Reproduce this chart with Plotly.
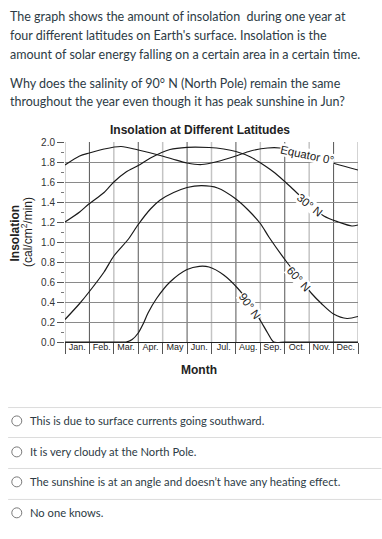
import plotly.graph_objects as go

# ---------------- data ----------------
months = ["Jan.", "Feb.", "Mar.", "Apr.", "May", "Jun.", "Jul.", "Aug.", "Sep.", "Oct.", "Nov.", "Dec."]
month_bounds = list(range(13))
y_ticks = [0.0, 0.2, 0.4, 0.6, 0.8, 1.0, 1.2, 1.4, 1.6, 1.8, 2.0]

eq_x = [0, 0.6, 1.0, 1.6, 2.3, 3.0, 3.75, 4.4, 5.0, 5.6, 6.25, 7.0, 7.6, 8.3, 8.8, 9.5, 10.3, 11.1, 12]
eq_y = [1.77, 1.86, 1.89, 1.93, 1.955, 1.92, 1.875, 1.83, 1.79, 1.775, 1.805, 1.86, 1.91, 1.94, 1.94, 1.90, 1.84, 1.78, 1.72]

n30_x = [0, 0.6, 1.0, 1.6, 2.0, 2.5, 3.0, 3.5, 4.3, 5.0, 5.9, 6.5, 7.0, 7.6, 8.2, 8.6, 9.2, 9.9, 10.6, 11.2, 11.75, 12]
n30_y = [1.20, 1.30, 1.385, 1.495, 1.60, 1.70, 1.765, 1.84, 1.925, 1.947, 1.945, 1.93, 1.905, 1.85, 1.76, 1.69, 1.56, 1.40, 1.26, 1.20, 1.16, 1.17]

n60_x = [0, 0.6, 1.0, 1.6, 2.0, 2.6, 3.0, 3.5, 3.9, 4.45, 5.0, 5.6, 6.25, 7.0, 7.5, 8.0, 8.35, 9.05, 9.6, 10.1, 10.5, 11.0, 11.55, 12]
n60_y = [0.225, 0.385, 0.505, 0.70, 0.86, 1.03, 1.175, 1.33, 1.42, 1.495, 1.545, 1.563, 1.54, 1.43, 1.32, 1.185, 1.05, 0.81, 0.64, 0.485, 0.385, 0.28, 0.235, 0.255]

n90_x = [0, 1, 2, 2.5, 2.75, 3.0, 3.2, 3.4, 3.75, 4.3, 5.0, 5.5, 5.9, 6.5, 7.1, 7.6, 8.05, 8.3, 8.55, 9, 10, 11, 12]
n90_y = [0, 0, 0, 0, 0.025, 0.09, 0.18, 0.29, 0.435, 0.60, 0.725, 0.757, 0.75, 0.67, 0.53, 0.37, 0.195, 0.09, 0, 0, 0, 0, 0]

series = [
    ("Equator 0°", eq_x, eq_y, 9.93, 1.867, 12),
    ("30° N", n30_x, n30_y, 10.01, 1.367, 39),
    ("60° N", n60_x, n60_y, 9.56, 0.627, 48),
    ("90° N", n90_x, n90_y, 7.56, 0.357, 55),
]

intro_lines = [
    "The graph shows the amount of insolation  during one year at",
    "four different latitudes on Earth's surface. Insolation is the",
    "amount of solar energy falling on a certain area in a certain time.",
    "Why does the salinity of 90° N (North Pole) remain the same",
    "throughout the year even though it has peak sunshine in Jun?",
]
options = [
    "This is due to surface currents going southward.",
    "It is very cloudy at the North Pole.",
    "The sunshine is at an angle and doesn’t have any heating effect.",
    "No one knows.",
]

# ---------------- layout geometry (pixels) ----------------
W, H = 382, 539
L, R, T, B = 65, 358.5, 141.5, 341.7


def px(x):
    return (x - L) / (R - L)


def py(y):
    return (B - y) / (B - T)


fig = go.Figure()
for name, xs, ys, lx, ly, ang in series:
    fig.add_trace(go.Scatter(x=xs, y=ys, mode="lines", name=name,
                             line=dict(color="#1a1a1a", width=1.2, shape="spline", smoothing=0.8),
                             cliponaxis=False, hoverinfo="skip", showlegend=False))

shapes = []
# vertical grid lines at month boundaries (alternating dark / light)
for b in month_bounds:
    dark = (b % 2 == 1)
    shapes.append(dict(type="line", xref="x", yref="y", x0=b, x1=b, y0=0, y1=2.0,
                       line=dict(color="#555555" if dark else "#c4c4c4", width=1 if dark else 1.5),
                       layer="below"))

annotations = []
for name, xs, ys, lx, ly, ang in series:
    annotations.append(dict(x=lx, y=ly, xref="x", yref="y", text=name, showarrow=False,
                            textangle=ang, bgcolor="white", borderpad=0,
                            xanchor="center", yanchor="middle",
                            font=dict(family="Liberation Sans, Arial", size=11.5, color="#222")))

title_font = dict(family="Liberation Sans, Arial", size=12, color="#222")
# title, axis titles
annotations.append(dict(x=px(200), y=py(129), xref="paper", yref="paper", showarrow=False,
                        xanchor="center", yanchor="middle",
                        text="<b>Insolation at Different Latitudes</b>", font=title_font))
annotations.append(dict(x=px(199), y=py(370), xref="paper", yref="paper", showarrow=False,
                        xanchor="center", yanchor="middle",
                        text="<b>Month</b>", font=title_font))
annotations.append(dict(x=px(15), y=py(233), xref="paper", yref="paper", showarrow=False,
                        xanchor="center", yanchor="middle",
                        text="<b>Insolation</b>", textangle=-90, font=title_font))
annotations.append(dict(x=px(27.5), y=py(232), xref="paper", yref="paper", showarrow=False,
                        xanchor="center", yanchor="middle",
                        text="(cal/cm<sup>2</sup>/min)", textangle=-90, font=title_font))

# intro text
intro_y = [16, 34.5, 53.5, 82.5, 101]
for t, yy in zip(intro_lines, intro_y):
    annotations.append(dict(x=px(8), y=py(yy), xref="paper", yref="paper", showarrow=False,
                            xanchor="left", yanchor="middle", text=t,
                            font=dict(family="Lato", size=12.5, color="#2d3b45")))

# answer options
opt_y = [420.7, 451.7, 481.7, 512.7]
sep_y = [407.3, 437.3, 468.3, 499.3]
for t, yy in zip(options, opt_y):
    annotations.append(dict(x=px(28), y=py(yy), xref="paper", yref="paper", showarrow=False,
                            xanchor="left", yanchor="middle", text=t,
                            font=dict(family="Lato", size=11.2, color="#2d3b45")))
    shapes.append(dict(type="circle", xref="paper", yref="paper",
                       x0=px(11.7), x1=px(21.7), y0=py(yy - 5), y1=py(yy + 5),
                       line=dict(color="#7a7a7a", width=1)))
for yy in sep_y:
    shapes.append(dict(type="line", xref="paper", yref="paper",
                       x0=px(8), x1=px(382), y0=py(yy), y1=py(yy),
                       line=dict(color="#dcdcdc", width=1)))

fig.update_layout(
    width=W, height=H, autosize=False,
    margin=dict(l=L, r=W - R, t=T, b=H - B, pad=0),
    paper_bgcolor="white", plot_bgcolor="white",
    shapes=shapes, annotations=annotations,
    xaxis=dict(range=[0, 12], tickmode="array", tickvals=[i + 0.5 for i in range(12)],
               ticktext=months, ticks="", showgrid=False, zeroline=False,
               showline=True, linecolor="#222", linewidth=1.3, ticklabelstandoff=-4,
               tickfont=dict(family="Liberation Sans, Arial", size=9, color="#222"),
               minor=dict(tickmode="array", tickvals=month_bounds, ticks="outside",
                          ticklen=11, tickcolor="#555", tickwidth=1, showgrid=False),
               fixedrange=True),
    yaxis=dict(range=[0, 2.0], tickmode="array", tickvals=y_ticks,
               ticktext=[f"{v:.1f}" for v in y_ticks], ticks="outside", ticklen=7,
               tickcolor="#555", showgrid=True, gridcolor="#8a8a8a", gridwidth=1,
               zeroline=False, showline=False,
               tickfont=dict(family="Liberation Sans, Arial", size=10, color="#333"),
               minor=dict(tickmode="array", tickvals=[v + 0.1 for v in y_ticks[:-1]],
                          ticks="outside", ticklen=3, tickcolor="#777", showgrid=False),
               fixedrange=True),
)

fig.write_html("out.html", config={"displayModeBar": False},
               post_script="document.body.style.margin='0';")
